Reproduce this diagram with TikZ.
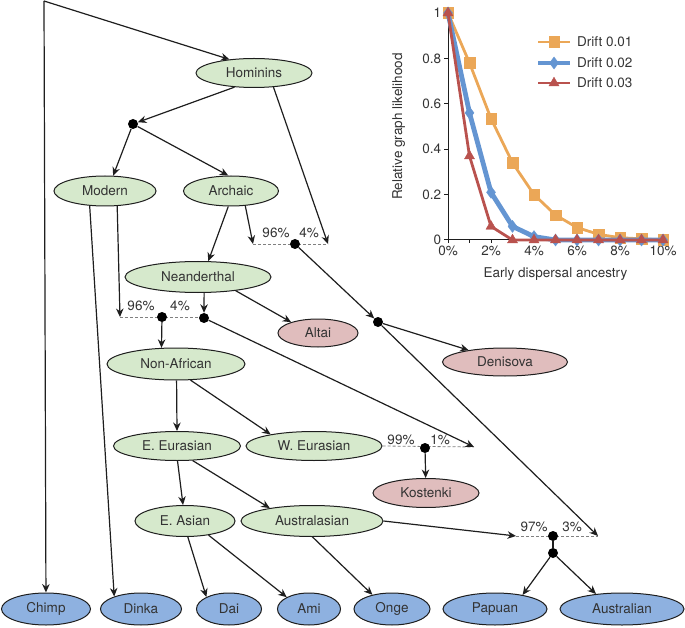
\documentclass[tikz,border=0pt]{standalone}
\usepackage{fontspec}
\setmainfont{TeX Gyre Heros}
\usepackage{tikz}
\usetikzlibrary{shapes.geometric,arrows.meta,plotmarks}

\definecolor{archgreen}{HTML}{D6E9CC}
\definecolor{extpink}{HTML}{E0BDBD}
\definecolor{popblue}{HTML}{8EB1E0}
\definecolor{linegrey}{HTML}{1E1E1E}
\definecolor{txtgrey}{HTML}{333333}
\definecolor{driftorange}{HTML}{EBA757}
\definecolor{driftblue}{HTML}{6495D2}
\definecolor{driftred}{HTML}{B9524E}

\begin{document}
\begin{tikzpicture}[x=1pt, y=-1pt,
				every node/.style={font=\fontsize{13.5pt}{16pt}\selectfont, text=txtgrey},
				popnode/.style={ellipse, draw=linegrey, line width=1pt, inner sep=0pt},
				innernode/.style={popnode, fill=archgreen},
				extinctnode/.style={popnode, fill=extpink},
				leafnode/.style={popnode, fill=popblue, minimum height=32pt},
				dotnode/.style={circle, fill=black, inner sep=0pt, minimum size=10pt},
				arr/.style={-{Stealth[length=8.5pt,width=7.5pt]}, draw=linegrey, line width=1.2pt},
				mixline/.style={draw=gray, dash pattern=on 3pt off 2pt, line width=0.8pt},
				pct/.style={inner sep=0pt},
				driftA/.style={draw=driftorange, line width=2.8pt, mark=square*, mark size=5.3pt, mark options={fill=driftorange, draw=driftorange, line width=0.4pt}},
				driftB/.style={draw=driftblue, line width=4.8pt, mark=diamond*, mark size=6pt, mark options={fill=driftblue, draw=driftblue, line width=0.4pt}},
				driftC/.style={draw=driftred, line width=2.8pt, mark=triangle*, mark size=5.8pt, mark options={fill=driftred, draw=driftred, line width=0.4pt}},
				]
	\useasboundingbox (0,0) rectangle (685,628);

		%Nodes
	\node[innernode, minimum width=116pt, minimum height=29pt]		(hominins)		at (254,73)		{Hominins};
	\node[innernode, minimum width=102pt, minimum height=30pt]		(modern)		at (105,191)	{Modern};
	\node[innernode, minimum width=95pt, minimum height=30pt]		(archaic)		at (231,191)	{Archaic};
	\node[innernode, minimum width=146pt, minimum height=31pt]		(neanderthal)	at (198,277)	{Neanderthal};
	\node[extinctnode, minimum width=80pt, minimum height=28pt]		(altai)			at (318,333)	{Altai};
	\node[extinctnode, minimum width=125pt, minimum height=28pt]	(denisova)		at (505,362)	{Denisova};
	\node[innernode, minimum width=138pt, minimum height=32pt]		(nonafrican)	at (176,364)	{Non-African};
	\node[innernode, minimum width=127pt, minimum height=29pt]		(eeurasian)		at (177,446)	{E. Eurasian};
	\node[innernode, minimum width=136pt, minimum height=29pt]		(weurasian)		at (314,446)	{W. Eurasian};
	\node[extinctnode, minimum width=106pt, minimum height=29pt]	(kostenki)		at (426,493)	{Kostenki};
	\node[innernode, minimum width=100pt, minimum height=31pt]		(easian)		at (185,521)	{E. Asian};
	\node[innernode, minimum width=142pt, minimum height=31pt]		(australasian)	at (312,521)	{Australasian};

	\node[leafnode, minimum width=89pt]		(chimp)			at (46,609)		{Chimp};
	\node[leafnode, minimum width=81pt]		(dinka)			at (141,609)	{Dinka};
	\node[leafnode, minimum width=65pt]		(dai)			at (229,609)	{Dai};
	\node[leafnode, minimum width=63pt]		(ami)			at (309,609)	{Ami};
	\node[leafnode, minimum width=76pt]		(onge)			at (392,609)	{Onge};
	\node[leafnode, minimum width=104pt]	(papuan)		at (495,609)	{Papuan};
	\node[leafnode, minimum width=124pt]	(australian)	at (622,609)	{Australian};

	\coordinate (top) at (44,1);
	\coordinate (a1l) at (253,244);
	\coordinate (a1r) at (328,244);
	\coordinate (a2l) at (120,317);
	\coordinate (a3r) at (474,447);
	\coordinate (a4l) at (516,536);
	\coordinate (a4r) at (598,536);

		%Admixture lines
	\draw[mixline]	(a1l) -- (a1r);
	\draw[mixline]	(a2l) -- (204,317);
	\draw[mixline]	(weurasian.east) -- (a3r);
	\draw[mixline]	(a4l) -- (a4r);

	\node[pct]	(p1a)	at (276,233)	{96\%};
	\node[pct]	(p1b)	at (309,233)	{4\%};
	\node[pct]	(p2a)	at (141,306)	{96\%};
	\node[pct]	(p2b)	at (180,306)	{4\%};
	\node[pct]	(p3a)	at (401,440)	{99\%};
	\node[pct]	(p3b)	at (440,440)	{1\%};
	\node[pct]	(p4a)	at (534,527)	{97\%};
	\node[pct]	(p4b)	at (572,527)	{3\%};

		%Dots
	\node[dotnode]	(d1)	at (133,124)	{};
	\node[dotnode]	(m1)	at (295,244)	{};
	\node[dotnode]	(d2)	at (378,322)	{};
	\node[dotnode]	(m2)	at (162,317)	{};
	\node[dotnode]	(d3)	at (204,318)	{};
	\node[dotnode]	(m3)	at (425,448)	{};
	\node[dotnode]	(m4)	at (553,536)	{};
	\node[dotnode]	(d4)	at (553,553)	{};

		%Lines
	\draw[arr]	(top) -- (hominins.151);
	\draw[arr]	(top) -- (chimp);
	\draw[arr]	(hominins.-144) -- (d1);
	\draw[arr]	(hominins.-36) -- (a1r);
	\draw[arr]	(d1) -- (modern.62);
	\draw[arr]	(d1) -- (archaic.100);
	\draw[arr]	(archaic.-100) -- (neanderthal.57);
	\draw[arr]	(archaic.-46) -- (a1l);
	\draw[arr]	(m1) -- (d2);
	\draw[arr]	(d2) -- (denisova.162);
	\draw[arr]	(d2) -- (a4r);
	\draw[arr]	(modern.-136) -- (dinka.155);
	\draw[arr]	(modern.-51) -- (a2l);
	\draw[arr]	(neanderthal.-69) -- (d3);
	\draw[arr]	(neanderthal.-20) -- (altai.158);
	\draw[arr]	(m2) -- (nonafrican.132);
	\draw[arr]	(d3) -- (a3r);
	\draw[arr]	(nonafrican.-88) -- (eeurasian.90);
	\draw[arr]	(nonafrican.-48) -- (weurasian.165);
	\draw[arr]	(m3) -- (kostenki);
	\draw[arr]	(eeurasian.-88) -- (easian.97);
	\draw[arr]	(eeurasian.-43) -- (australasian.163);
	\draw[arr]	(easian.-80) -- (dai.152);
	\draw[arr]	(easian.-31) -- (ami.152);
	\draw[arr]	(australasian.-88) -- (onge.144);
	\draw[arr]	(australasian.east) -- (a4l);
	\draw[linegrey, line width=1.2pt]	(m4) -- (d4);
	\draw[arr]	(d4) -- (papuan.27);
	\draw[arr]	(d4) -- (australian.150);

		%Likelihood chart
	\begin{scope}[shift={(448,240)}, x=21.5pt, y=227pt]
		\draw[linegrey, line width=1pt]	(0,1) -- (0,0) -- (10.2,0);
		\foreach \v in {0,0.2,0.4,0.6,0.8,1}{
			\draw[linegrey, line width=1pt]	(0,\v) -- ++(-4pt,0pt);
			\node[anchor=east]	at (-0.15,\v)	{\v};
		}
		\foreach \p in {0,...,10}
			\draw[linegrey, line width=1pt]	(\p,0) -- ++(0pt,-3pt);
		\foreach \p in {0,2,...,10}
			\node[anchor=north]	at (\p,-0.01)	{\p\%};
		\node[rotate=90]	(ylab)	at (-2.3,0.5)	{Relative graph likelihood};
		\node	(xlab)	at (5,-0.15)	{Early dispersal ancestry};

		\draw[driftA]	plot coordinates {(0,1) (1,0.78) (2,0.535) (3,0.34) (4,0.2) (5,0.11) (6,0.055) (7,0.025) (8,0.01) (9,0.005) (10,0)};
		\draw[driftB]	plot coordinates {(0,1) (1,0.56) (2,0.21) (3,0.06) (4,0.015) (5,0) (6,0) (7,0) (8,0) (9,0) (10,0)};
		\draw[driftC]	plot coordinates {(0,1) (1,0.37) (2,0.06) (3,0) (4,0) (5,0) (6,0) (7,0) (8,0) (9,0) (10,0)};
	\end{scope}

		%Legend
	\draw[driftA]	(538,42) -- (570,42);
	\draw[driftA]	plot coordinates {(554,42)};
	\node[pct, anchor=west]	(leg1)	at (577,42)	{Drift 0.01};
	\draw[driftB]	(538,63) -- (570,63);
	\draw[driftB]	plot coordinates {(554,63)};
	\node[pct, anchor=west]	(leg2)	at (577,63)	{Drift 0.02};
	\draw[driftC]	(538,83) -- (570,83);
	\draw[driftC]	plot coordinates {(554,83)};
	\node[pct, anchor=west]	(leg3)	at (577,83)	{Drift 0.03};
\end{tikzpicture}
\end{document}
